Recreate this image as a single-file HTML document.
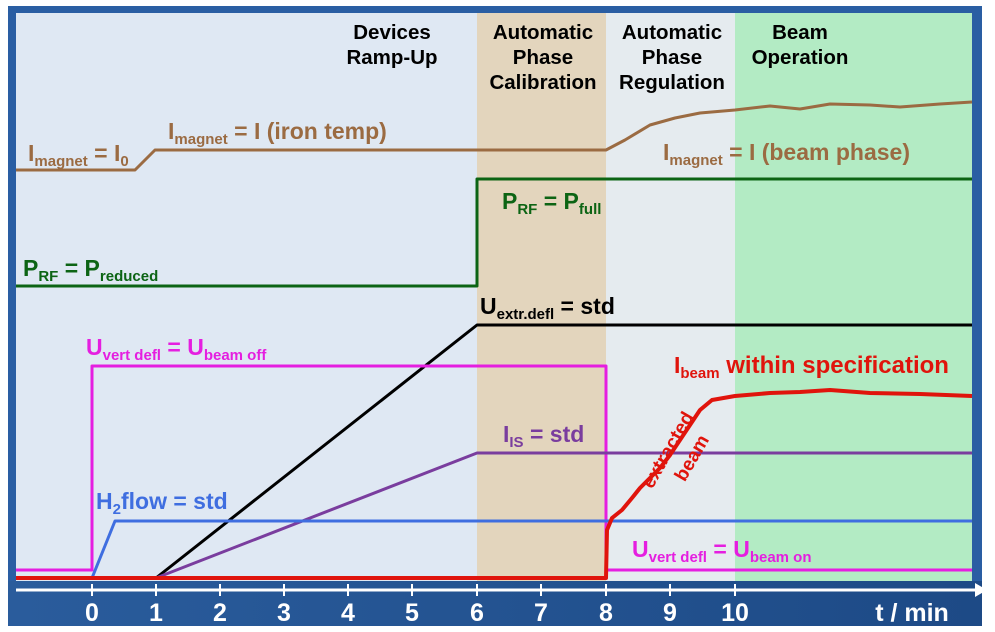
<!DOCTYPE html>
<html><head><meta charset="utf-8"><style>
body{margin:0;background:#fff}
svg{display:block;font-family:"Liberation Sans",Arial,sans-serif;font-weight:bold}
</style></head><body>
<svg width="995" height="632" viewBox="0 0 995 632">
<defs><linearGradient id="ax" x1="0" x2="1"><stop offset="0" stop-color="#2a5c9c"/><stop offset="1" stop-color="#1d4a86"/></linearGradient></defs>
<rect x="8" y="6" width="974" height="620" fill="#2a5ea3"/>
<rect x="16" y="13" width="956" height="568" fill="#dfe8f3"/>
<rect x="477" y="13" width="129" height="568" fill="#e3d5bd"/>
<rect x="606" y="13" width="129" height="568" fill="#e5ebef"/>
<rect x="735" y="13" width="237" height="568" fill="#b3ebc4"/>
<rect x="8" y="581" width="974" height="45" fill="url(#ax)"/>
<g font-size="20.5" fill="#000" text-anchor="middle">
<text x="392" y="39">Devices</text><text x="392" y="64">Ramp-Up</text>
<text x="543" y="39">Automatic</text><text x="543" y="64">Phase</text><text x="543" y="89">Calibration</text>
<text x="672" y="39">Automatic</text><text x="672" y="64">Phase</text><text x="672" y="89">Regulation</text>
<text x="800" y="39">Beam</text><text x="800" y="64">Operation</text>
</g>
<g fill="none" stroke-width="3" stroke-linejoin="round">
<polyline stroke="#9b6b42" points="16,170 135,170 155,150 606,150 625,140 650,125 675,118 700,113 735,110 770,106 800,109 830,104 870,105 900,107 940,104 972,102"/>
<polyline stroke="#0c6414" points="16,286 477,286 477,179 972,179"/>
<polyline stroke="#000" points="156,578 477,325 972,325"/>
<polyline stroke="#e51ee0" points="16,570 92,570 92,366 606,366 606,570 972,570"/>
<polyline stroke="#7a3d9e" points="156,578 477,453 972,453"/>
<polyline stroke="#3f6ee0" points="92,578 115,521 972,521"/>
<polyline stroke="#e0140c" stroke-width="4" points="16,578 606,578 607,530 612,518 622,510 632,498 640,488 650,478 660,468 670,455 680,440 690,425 700,410 712,400 735,396 770,393 800,392 830,390 870,393 920,394 972,396"/>
</g>
<line x1="16" y1="590" x2="978" y2="590" stroke="#fff" stroke-width="3"/>
<polygon points="975,583 987,590 975,597" fill="#fff"/>
<g stroke="#fff" stroke-width="2">
<line x1="92" y1="584" x2="92" y2="596"/><line x1="156" y1="584" x2="156" y2="596"/><line x1="220" y1="584" x2="220" y2="596"/><line x1="284" y1="584" x2="284" y2="596"/><line x1="348" y1="584" x2="348" y2="596"/><line x1="412" y1="584" x2="412" y2="596"/><line x1="477" y1="584" x2="477" y2="596"/><line x1="541" y1="584" x2="541" y2="596"/><line x1="606" y1="584" x2="606" y2="596"/><line x1="670" y1="584" x2="670" y2="596"/><line x1="735" y1="584" x2="735" y2="596"/>
</g>
<g fill="#fff" font-size="25" text-anchor="middle">
<text x="92" y="621">0</text><text x="156" y="621">1</text><text x="220" y="621">2</text><text x="284" y="621">3</text><text x="348" y="621">4</text><text x="412" y="621">5</text><text x="477" y="621">6</text><text x="541" y="621">7</text><text x="606" y="621">8</text><text x="670" y="621">9</text><text x="735" y="621">10</text>
<text x="912" y="621">t / min</text>
</g>
<g font-size="23">
<text x="28" y="161" fill="#9b6b42">I<tspan font-size="15" dy="5">magnet</tspan><tspan dy="-5"> = I</tspan><tspan font-size="15" dy="5">0</tspan></text>
<text x="168" y="139" fill="#9b6b42">I<tspan font-size="15" dy="5">magnet</tspan><tspan dy="-5"> = I (iron temp)</tspan></text>
<text x="663" y="160" fill="#9b6b42">I<tspan font-size="15" dy="5">magnet</tspan><tspan dy="-5"> = I (beam phase)</tspan></text>
<text x="23" y="276" fill="#0c6414">P<tspan font-size="15" dy="5">RF</tspan><tspan dy="-5"> = P</tspan><tspan font-size="15" dy="5">reduced</tspan></text>
<text x="502" y="209" fill="#0c6414">P<tspan font-size="15" dy="5">RF</tspan><tspan dy="-5"> = P</tspan><tspan font-size="15" dy="5">full</tspan></text>
<text x="480" y="314" fill="#000">U<tspan font-size="15" dy="5">extr.defl</tspan><tspan dy="-5"> = std</tspan></text>
<text x="86" y="355" fill="#e51ee0">U<tspan font-size="15" dy="5">vert defl</tspan><tspan dy="-5"> = U</tspan><tspan font-size="15" dy="5">beam off</tspan></text>
<text x="503" y="442" fill="#7a3d9e">I<tspan font-size="15" dy="5">IS</tspan><tspan dy="-5"> = std</tspan></text>
<text x="96" y="509" fill="#3f6ee0">H<tspan font-size="15" dy="5">2</tspan><tspan dy="-5">flow = std</tspan></text>
<text x="632" y="557" fill="#e51ee0">U<tspan font-size="15" dy="5">vert defl</tspan><tspan dy="-5"> = U</tspan><tspan font-size="15" dy="5">beam on</tspan></text>
<text x="674" y="373" fill="#e0140c">I<tspan font-size="15" dy="5">beam</tspan><tspan dy="-5" font-size="24"> within specification</tspan></text>
</g>
<g fill="#e0140c" font-size="19">
<text transform="translate(668,450) rotate(-60)" text-anchor="middle" dy="6">extracted</text>
<text transform="translate(692,458) rotate(-60)" text-anchor="middle" dy="6">beam</text>
</g>
</svg>
</body></html>
